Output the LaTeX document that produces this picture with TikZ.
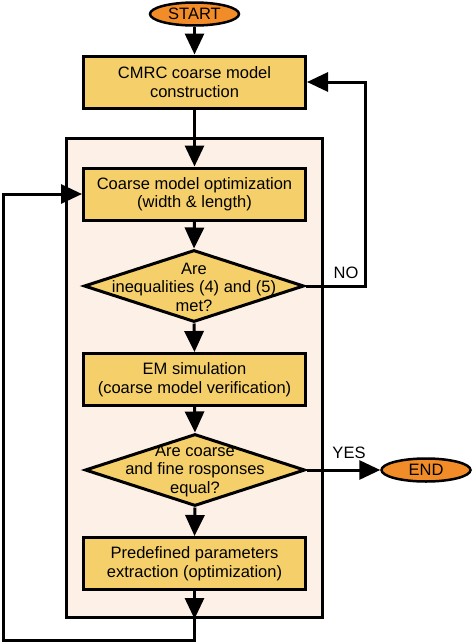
\documentclass[tikz,border=0pt]{standalone}
\usepackage{fontspec}
\setmainfont{Liberation Sans}
\usetikzlibrary{arrows.meta,shapes.geometric}
\definecolor{boxy}{HTML}{F5D06A}
\definecolor{panelc}{HTML}{FDF0E7}
\definecolor{orng}{HTML}{F28C28}
\begin{document}
\begin{tikzpicture}[x=1pt,y=-1pt,
  every node/.style={font=\fontsize{16.5}{18.5}\selectfont, text=black},
  procbox/.style={draw=black, line width=3pt, fill=boxy, minimum width=222pt, minimum height=52pt, align=center, inner sep=0pt},
  diabox/.style={draw=black, line width=3pt, fill=boxy, diamond, minimum width=220pt, minimum height=72pt, inner sep=0pt},
  termnode/.style={draw=black, line width=2.5pt, fill=orng, ellipse, minimum width=89pt, minimum height=23pt, inner sep=0pt},
  panelbox/.style={draw=black, line width=3pt, fill=panelc, minimum width=256pt, minimum height=479pt, inner sep=0pt},
  conn/.style={line width=3pt, line join=miter},
  arr/.style={conn, -{Triangle[length=21pt,width=19pt]}},
  lbl/.style={align=center, inner sep=0pt}
]
\useasboundingbox (0,0) rectangle (474,643);
\node[panelbox] (panel) at (194.5,378) {};
\node[termnode] (start) at (194.5,14) {START};
\node[procbox] (b1) at (194.5,82) {CMRC coarse model\\construction};
\node[procbox] (b2) at (194.5,194) {Coarse model optimization\\(width \& length)};
\node[diabox] (d1) at (194,286) {};
\node[lbl] (d1t) at (194,287) {Are\\inequalities (4) and (5)\\met?};
\node[procbox] (b3) at (194.5,379.5) {EM simulation\\(coarse model verification)};
\node[diabox] (d2) at (195,470) {};
\node[lbl] (d2t) at (195,471) {Are coarse\\and fine rosponses\\equal?};
\node[procbox] (b4) at (194.5,563.5) {Predefined parameters\\extraction (optimization)};
\node[termnode] (end) at (426,470) {END};
\coordinate (nc) at (365,82);
\coordinate (lb) at (3,640);
\draw[arr] (start.south) -- (b1.north);
\draw[arr] (b1.south) -- (b2.north);
\draw[arr] (b2.south) -- (d1.north);
\draw[arr] (d1.east) -| (nc) -- (b1.east);
\node[lbl] (nolbl) at (346,273) {NO};
\draw[arr] (d1.south) -- (b3.north);
\draw[arr] (b3.south) -- (d2.north);
\draw[arr] (d2.east) -- (end.west);
\node[lbl] (yeslbl) at (349,453) {YES};
\draw[arr] (d2.south) -- (b4.north);
\draw[arr] (b4.south) -- (panel.south);
\draw[arr] (panel.south) |- (lb) |- (b2.west);
\end{tikzpicture}
\end{document}
